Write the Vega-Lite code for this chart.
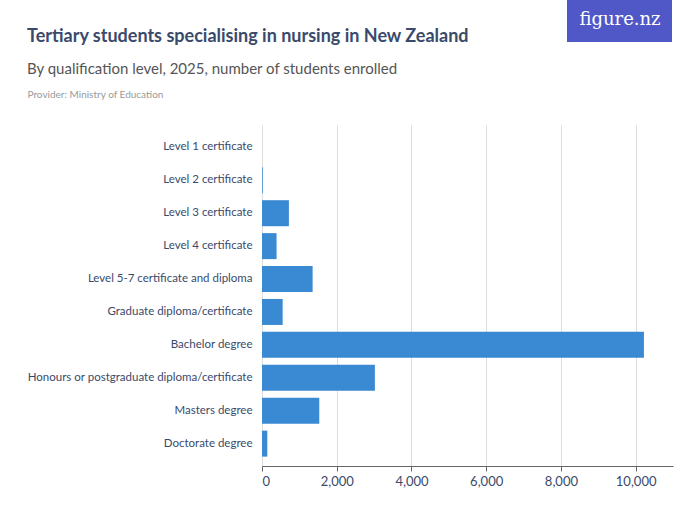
{
  "$schema": "https://vega.github.io/schema/vega-lite/v6.json",
  "width": 411,
  "height": 341,
  "autosize": {"type": "none"},
  "padding": {"left": 262, "top": 125, "right": 27, "bottom": 59},
  "background": "white",
  "title": {
    "text": "Tertiary students specialising in nursing in New Zealand",
    "subtitle": "By qualification level, 2025, number of students enrolled",
    "anchor": "start",
    "frame": "group",
    "dx": -235,
    "offset": -77,
    "font": "Lato",
    "fontSize": 18,
    "fontWeight": "bold",
    "color": "#3a4a6b",
    "subtitleFont": "Lato",
    "subtitleFontSize": 15,
    "subtitleColor": "#555555",
    "subtitlePadding": 16
  },
  "config": {
    "view": {"stroke": null},
    "font": "Lato"
  },
  "layer": [
    {
      "data": {
        "values": [
          {"level": "Level 1 certificate", "students": 0},
          {"level": "Level 2 certificate", "students": 20},
          {"level": "Level 3 certificate", "students": 720},
          {"level": "Level 4 certificate", "students": 390},
          {"level": "Level 5-7 certificate and diploma", "students": 1355},
          {"level": "Graduate diploma/certificate", "students": 553},
          {"level": "Bachelor degree", "students": 10222},
          {"level": "Honours or postgraduate diploma/certificate", "students": 3021},
          {"level": "Masters degree", "students": 1533},
          {"level": "Doctorate degree", "students": 142}
        ]
      },
      "mark": {"type": "bar", "color": "#3a8ad3"},
      "encoding": {
        "y": {
          "field": "level",
          "type": "nominal",
          "sort": null,
          "scale": {"paddingInner": 0.21, "paddingOuter": 0.285},
          "axis": {
            "title": "Provider: Ministry of Education",
            "titleAngle": 0,
            "titleX": -235,
            "titleY": -31,
            "titleAlign": "left",
            "titleBaseline": "middle",
            "titleFont": "Lato",
            "titleFontSize": 10,
            "titleFontWeight": "normal",
            "titleColor": "#999999",
            "domain": false,
            "ticks": false,
            "labelPadding": 10,
            "labelFont": "Lato",
            "labelFontSize": 11.5,
            "labelColor": "#3a4a6b",
            "labelLimit": 300
          }
        },
        "x": {
          "field": "students",
          "type": "quantitative",
          "scale": {"domain": [0, 11000], "nice": false},
          "axis": {
            "title": null,
            "values": [0, 2000, 4000, 6000, 8000, 10000],
            "format": ",d",
            "grid": true,
            "gridColor": "#dddddd",
            "domainColor": "#666666",
            "tickColor": "#666666",
            "tickSize": 5,
            "labelFont": "Lato",
            "labelFontSize": 13,
            "labelColor": "#3a4a6b",
            "labelPadding": 4
          }
        }
      }
    },
    {
      "data": {"values": [{"logo": "figure.nz"}]},
      "mark": {"type": "rect", "color": "#5058c8", "x": 305, "x2": 410, "y": -125, "y2": -83},
      "encoding": {}
    },
    {
      "data": {"values": [{"logo": "figure.nz"}]},
      "mark": {"type": "text", "color": "white", "x": 358, "y": -105, "align": "center", "baseline": "middle", "font": "DejaVu Serif", "fontSize": 18, "fontWeight": "normal"},
      "encoding": {"text": {"field": "logo"}}
    }
  ]
}
